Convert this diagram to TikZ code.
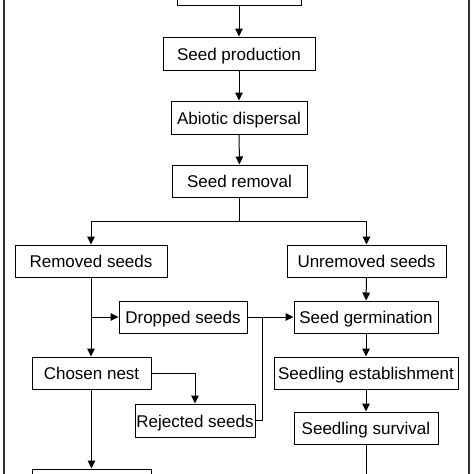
\documentclass[tikz,border=0pt]{standalone}
\usepackage{fontspec}
\setmainfont{Liberation Sans}
\usetikzlibrary{arrows.meta}
\begin{document}
\begin{tikzpicture}[x=1pt,y=-1pt,
  box/.style={draw, line width=1pt, minimum height=32pt, inner sep=0pt, text height=13pt, text depth=0pt, font=\fontsize{17}{20}\selectfont},
  link/.style={line width=1pt},
  arr/.style={line width=1pt, -{Triangle[length=8pt,width=7.5pt]}}]
\useasboundingbox (0,0) rectangle (474,474);
\clip (0,0) rectangle (474,474);
\draw[line width=1.4pt, black!80] (4,-10) rectangle (469,490);
\node[box, minimum width=124pt] (top) at (239,-10.3) {};
\node[box, minimum width=152pt, minimum height=33pt] (prod) at (239,53.5) {Seed production};
\node[box, minimum width=136pt, minimum height=33pt] (abio) at (239,117.5) {Abiotic dispersal};
\node[box, minimum width=135pt] (rem) at (239.5,181) {Seed removal};
\node[box, minimum width=152pt] (removed) at (91,261) {Removed seeds};
\node[box, minimum width=159pt] (unrem) at (366.5,261) {Unremoved seeds};
\node[box, minimum width=128pt] (drop) at (183,317) {Dropped seeds};
\node[box, minimum width=144pt] (germ) at (366,317) {Seed germination};
\node[box, minimum width=119pt] (chosen) at (91.5,373) {Chosen nest};
\node[box, minimum width=184pt] (estab) at (366,373) {Seedling establishment};
\node[box, minimum width=120pt, minimum height=33pt] (rej) at (195,420.5) {Rejected seeds};
\node[box, minimum width=144pt] (surv) at (366,428) {Seedling survival};
\node[box, minimum width=119pt] (bot) at (91.5,485) {};
\coordinate (split) at (239.5,221);
\coordinate (join) at (262,317);
\coordinate (survend) at (366,480);
\draw[arr] (top) -- (prod);
\draw[arr] (prod) -- (abio);
\draw[arr] (abio) -- (rem);
\draw[link] (rem) -- (split);
\draw[arr] (split) -| (removed);
\draw[arr] (split) -| (unrem);
\draw[arr] (unrem) -- (germ);
\draw[arr] (removed.south) -- (removed.south |- chosen.north);
\draw[arr] (removed.south |- drop.west) -- (drop.west);
\draw[arr] (drop) -- (germ);
\draw[link] (rej.east) -| (join);
\draw[arr] (chosen.east) -| (rej.north);
\draw[arr] (germ) -- (estab);
\draw[arr] (estab) -- (surv);
\draw[link] (surv) -- (survend);
\draw[arr] (chosen.south) -- (chosen.south |- bot.north);
\end{tikzpicture}
\end{document}
